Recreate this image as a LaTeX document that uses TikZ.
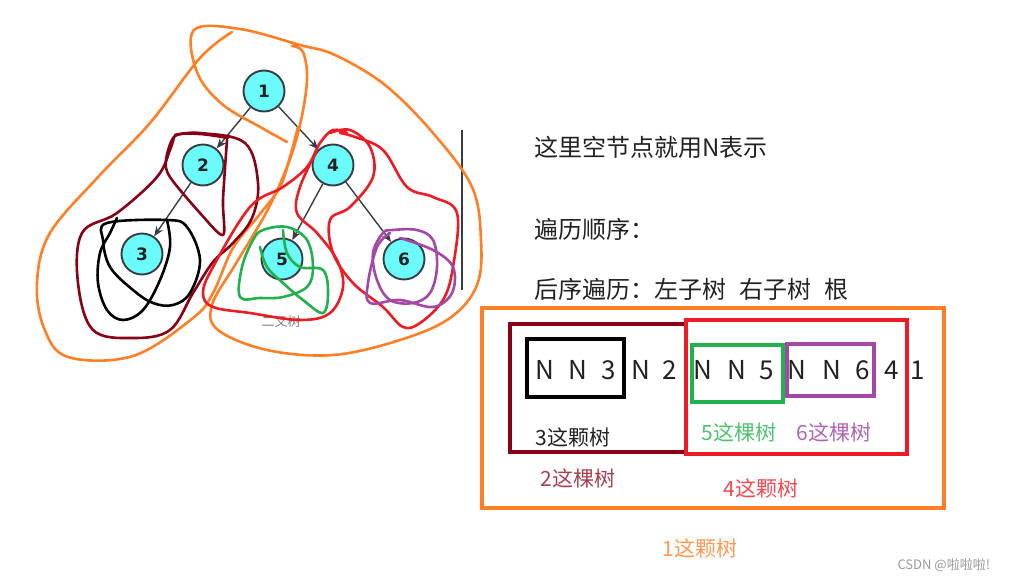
\documentclass[tikz,border=0pt]{standalone}
\usepackage{fontspec}
\newfontfamily\cjk{Noto Sans CJK SC}
\newfontfamily\numfont{DejaVu Sans}
\usetikzlibrary{arrows.meta}
\definecolor{pencyan}{HTML}{6CFBFB}
\definecolor{penring}{HTML}{363E43}
\definecolor{penorange}{HTML}{FF7F27}
\definecolor{pendred}{HTML}{880015}
\definecolor{penred}{HTML}{ED1C24}
\definecolor{pengreen}{HTML}{22B14C}
\definecolor{penpurple}{HTML}{A349A4}
\definecolor{inktext}{HTML}{222222}
\tikzset{
  treenode/.style={circle, draw=penring, fill=pencyan, line width=1.9pt,
    minimum size=41pt, inner sep=0pt, text=inktext,
    font=\numfont\bfseries\fontsize{17}{17}\selectfont},
  edge/.style={-{Stealth[length=10pt,width=8pt]}, draw=penring, line width=1.4pt},
  pen/.style={line width=2.6pt, line cap=round, line join=round},
  box/.style={line width=4pt},
  txt/.style={anchor=west, text=inktext, font=\cjk\fontsize{24}{24}\selectfont},
  seq/.style={text=inktext, font=\cjk\fontsize{26}{26}\selectfont},
  tag/.style={anchor=west, font=\cjk\fontsize{21}{21}\selectfont},
  small/.style={text=gray, font=\cjk\fontsize{13}{13}\selectfont}
}
\begin{document}
\begin{tikzpicture}[x=1pt,y=-1pt]
    \useasboundingbox (0,0) rectangle (1023,581);
    % tree
    \node[treenode] (n1) at (264,91) {1};
    \node[treenode] (n2) at (203,165) {2};
    \node[treenode] (n3) at (142,254) {3};
    \node[treenode] (n4) at (333,165) {4};
    \node[treenode] (n5) at (282,259) {5};
    \node[treenode] (n6) at (404,259) {6};
    \draw[edge] (n1) -- (n2);
    \draw[edge] (n1) -- (n4);
    \draw[edge] (n2) -- (n3);
    \draw[edge] (n4) -- (n5);
    \draw[edge] (n4) -- (n6);
    \node[small] (bt) at (281,322) {二叉树};
    \draw[penring, line width=1.5pt] (462,130) -- (462,290);
    % pen loops
    \draw[pen, penorange] plot[smooth, tension=0.6] coordinates {(287,142) (262,128) (222,104) (197,72) (194,30) (240,29) (300,45) (335,55) (385,85) (433,133) (472,187) (481,240) (477,285) (450,318) (400,340) (333,355) (267,350) (218,330) (212,305) (235,265) (266,213) (287,167) (300,125) (307,80) (303,52) (292,46)};
    \draw[pen, penorange] plot[smooth, tension=0.6] coordinates {(232,32) (200,58) (150,123) (100,175) (50,233) (37,283) (44,328) (68,357) (133,356) (193,318) (213,293) (233,248) (260,214) (280,187) (290,157) (298,127)};
    \draw[pen, pendred] plot[smooth, tension=0.6] coordinates {(175,135) (200,133) (245,143) (258,183) (252,218) (233,243) (213,262) (193,293) (170,330) (133,338) (93,330) (78,283) (82,233) (117,213) (157,177) (170,150) (174,137)};
    \draw[pen, pendred] plot[smooth, tension=0.5] coordinates {(227,140) (223,200) (223,235) (200,213) (170,177) (166,160) (175,136) (200,134) (228,138)};
    \draw[pen, black] plot[smooth cycle, tension=0.6] coordinates {(107,223) (167,220) (187,227) (200,260) (190,293) (173,305) (153,303) (133,290) (110,267) (103,240)};
    \draw[pen, black] plot[smooth, tension=0.6] coordinates {(167,220) (170,247) (160,280) (143,310) (123,320) (107,310) (98,283) (100,253) (110,233) (117,218)};
    \draw[pen, penred] plot[smooth, tension=0.6] coordinates {(330,133) (350,130) (370,147) (373,177) (350,207) (330,220) (333,253) (353,283) (383,307) (403,327) (420,323) (443,300) (453,267) (457,213) (433,197) (407,187) (383,150) (355,137) (340,133)};
    \draw[pen, penred] plot[smooth, tension=0.6] coordinates {(347,133) (333,130) (320,143) (307,167) (283,187) (250,207) (213,267) (203,293) (213,307) (250,313) (300,320) (330,313) (343,287) (337,260) (317,233) (297,213) (300,187) (317,150)};
    \draw[pen, pengreen] plot[smooth cycle, tension=0.6] coordinates {(263,230) (287,227) (307,240) (313,267) (307,287) (283,297) (260,298) (240,297) (242,267) (253,240)};
    \draw[pen, pengreen] plot[smooth, tension=0.6] coordinates {(283,230) (287,253) (300,267) (323,270) (328,293) (323,313) (303,300) (283,283) (267,267) (260,247)};
    \draw[pen, penpurple] plot[smooth cycle, tension=0.6] coordinates {(393,230) (417,230) (433,240) (437,267) (430,293) (413,303) (390,300) (377,280) (373,253) (383,233)};
    \draw[pen, penpurple] plot[smooth, tension=0.6] coordinates {(400,238) (433,250) (453,267) (452,293) (433,307) (400,300) (370,303) (368,283) (377,247) (390,233)};
    % notes
    \node[txt] (t1) at (531,147) {这里空节点就用N表示};
    \node[txt] (t2) at (531,229) {遍历顺序：};
    \node[txt] (t3) at (531,289) {后序遍历：左子树\hspace{0.55em}右子树\hspace{0.55em}根};
    % postorder sequence
    \foreach \ch/\x [count=\i] in {N/545, N/578, 3/609, N/641, 2/670, N/703, N/737, 5/767, N/797, N/832, 6/863, 4/892, 1/918}
      \node[seq] (s\i) at (\x,370) {\ch};
    \draw[box, penorange] (482,308) rectangle (944,508);
    \draw[box, pendred] (510,324) rectangle (686,452);
    \draw[box, black] (527,339) rectangle (624,397);
    \draw[box, penred] (686,320) rectangle (907,454);
    \draw[box, pengreen] (692,345) rectangle (783,402);
    \draw[box, penpurple] (787,344) rectangle (874,396);
    \node[tag, text=inktext] (l3) at (532,437) {3这颗树};
    \node[tag, text=pengreen!80!white] (l5) at (698,432) {5这棵树};
    \node[tag, text=penpurple!85!white] (l6) at (793,432) {6这棵树};
    \node[tag, text=pendred!75!white] (l2) at (537,478) {2这棵树};
    \node[tag, text=penred!80!white] (l4) at (720,488) {4这颗树};
    \node[tag, text=penorange!80!white] (l1) at (659,548) {1这颗树};
    \node[small, anchor=west, text=gray!80] (csdn) at (894,565) {CSDN @啦啦啦!};
\end{tikzpicture}
\end{document}
